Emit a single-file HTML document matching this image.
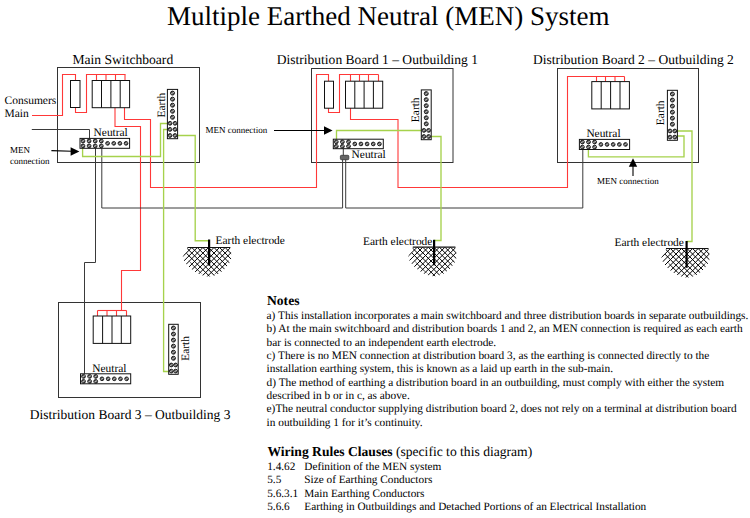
<!DOCTYPE html>
<html><head><meta charset="utf-8"><style>
html,body{margin:0;padding:0;background:#fff;}
svg{display:block;}
text{font-family:"Liberation Serif",serif;fill:#000;text-rendering:geometricPrecision;}
</style></head><body>
<svg width="750" height="518" viewBox="0 0 750 518">
<rect width="750" height="518" fill="#fff"/>
<text x="167" y="25.3" font-size="27" font-weight="normal" text-anchor="start" >Multiple Earthed Neutral (MEN) System</text>
<text x="72.4" y="64.4" font-size="13.6" font-weight="normal" text-anchor="start" >Main Switchboard</text>
<text x="276.7" y="63.9" font-size="13.55" font-weight="normal" text-anchor="start" >Distribution Board 1 – Outbuilding 1</text>
<text x="533" y="63.9" font-size="13.53" font-weight="normal" text-anchor="start" >Distribution Board 2 – Outbuilding 2</text>
<text x="29.8" y="418.8" font-size="13.5" font-weight="normal" text-anchor="start" >Distribution Board 3 – Outbuilding 3</text>
<rect x="57.5" y="67.5" width="142" height="95" stroke="#333" fill="none" stroke-width="1"/>
<rect x="311.5" y="68.5" width="141.5" height="94" stroke="#333" fill="none" stroke-width="1"/>
<rect x="557.5" y="68.5" width="141" height="94" stroke="#333" fill="none" stroke-width="1"/>
<rect x="58.5" y="302.5" width="142" height="95" stroke="#333" fill="none" stroke-width="1"/>
<path d="M32,115.5H62.5V74.5H75.5V80.5" stroke="#ff3838" stroke-width="1.1" fill="none"/>
<path d="M75.5,107.5V112.5H86.5V74.5H125.5" stroke="#ff3838" stroke-width="1.1" fill="none"/>
<path d="M96.5,74.5V80.5" stroke="#ff3838" stroke-width="1.1" fill="none"/>
<path d="M106,74.5V80.5" stroke="#ff3838" stroke-width="1.1" fill="none"/>
<path d="M115.5,74.5V80.5" stroke="#ff3838" stroke-width="1.1" fill="none"/>
<path d="M125,74.5V80.5" stroke="#ff3838" stroke-width="1.1" fill="none"/>
<path d="M115,107.5V126.5H140.5V270.5H121.5V310.5" stroke="#ff3838" stroke-width="1.1" fill="none"/>
<path d="M124.5,107.5V119.5H150.5V187.5H316.5V74.5H328.5V81" stroke="#ff3838" stroke-width="1.1" fill="none"/>
<path d="M328.5,108V112.5H339.5V74.5H378.5" stroke="#ff3838" stroke-width="1.1" fill="none"/>
<path d="M350.5,74.5V81" stroke="#ff3838" stroke-width="1.1" fill="none"/>
<path d="M359.5,74.5V81" stroke="#ff3838" stroke-width="1.1" fill="none"/>
<path d="M368.5,74.5V81" stroke="#ff3838" stroke-width="1.1" fill="none"/>
<path d="M378.5,74.5V81" stroke="#ff3838" stroke-width="1.1" fill="none"/>
<path d="M350.5,108V119.5H398V187.5H567.5V76.5H624.5" stroke="#ff3838" stroke-width="1.1" fill="none"/>
<path d="M596.5,76.5V81.5" stroke="#ff3838" stroke-width="1.1" fill="none"/>
<path d="M605.5,76.5V81.5" stroke="#ff3838" stroke-width="1.1" fill="none"/>
<path d="M615,76.5V81.5" stroke="#ff3838" stroke-width="1.1" fill="none"/>
<path d="M624.5,76.5V81.5" stroke="#ff3838" stroke-width="1.1" fill="none"/>
<path d="M97.5,310.5H126.5" stroke="#ff3838" stroke-width="1.1" fill="none"/>
<path d="M97.5,310.5V316" stroke="#ff3838" stroke-width="1.1" fill="none"/>
<path d="M107,310.5V316" stroke="#ff3838" stroke-width="1.1" fill="none"/>
<path d="M116.5,310.5V316" stroke="#ff3838" stroke-width="1.1" fill="none"/>
<path d="M126.5,310.5V316" stroke="#ff3838" stroke-width="1.1" fill="none"/>
<path d="M31.8,129.5H89.5V138.5" stroke="#3a3a3a" stroke-width="1" fill="none"/>
<path d="M95.5,148V262.5H84.5V373.8" stroke="#3a3a3a" stroke-width="1" fill="none"/>
<path d="M101.8,148V208H342.6V159.5" stroke="#3a3a3a" stroke-width="1" fill="none"/>
<path d="M343.3,148.5V155.5" stroke="#3a3a3a" stroke-width="1" fill="none"/>
<path d="M345.7,159.5V208H582.8V149.5" stroke="#3a3a3a" stroke-width="1" fill="none"/>
<path d="M82.6,148V156.5H160.5V123.5H168" stroke="#a6d24c" stroke-width="1.35" fill="none"/>
<path d="M168,129.5H163.6V371.5H169" stroke="#a6d24c" stroke-width="1.35" fill="none"/>
<path d="M177,135.5H195.2V240.7H209" stroke="#a6d24c" stroke-width="1.35" fill="none"/>
<path d="M336.5,139V130.5H421.5" stroke="#a6d24c" stroke-width="1.35" fill="none"/>
<path d="M431,136.5H441V240.5H434" stroke="#a6d24c" stroke-width="1.35" fill="none"/>
<path d="M588.4,149.5V156.9H684V136H677" stroke="#a6d24c" stroke-width="1.35" fill="none"/>
<path d="M677,131H692V241.5H686.6" stroke="#a6d24c" stroke-width="1.35" fill="none"/>
<rect x="70.5" y="80.5" width="9.5" height="27" stroke="#111" fill="#fff" stroke-width="1"/>
<rect x="92.2" y="80.5" width="37.4" height="27.2" stroke="#111" fill="#fff" stroke-width="1"/>
<path d="M101.5,80.5V107.7" stroke="#111" stroke-width="1"/>
<path d="M110.9,80.5V107.7" stroke="#111" stroke-width="1"/>
<path d="M120.2,80.5V107.7" stroke="#111" stroke-width="1"/>
<rect x="324.5" y="81.2" width="9" height="27" stroke="#111" fill="#fff" stroke-width="1"/>
<rect x="345.5" y="81.2" width="37.2" height="27" stroke="#111" fill="#fff" stroke-width="1"/>
<path d="M354.8,81.2V108.2" stroke="#111" stroke-width="1"/>
<path d="M364.1,81.2V108.2" stroke="#111" stroke-width="1"/>
<path d="M373.4,81.2V108.2" stroke="#111" stroke-width="1"/>
<rect x="591.8" y="81.6" width="37.6" height="27.3" stroke="#111" fill="#fff" stroke-width="1"/>
<path d="M601.2,81.6V108.89999999999999" stroke="#111" stroke-width="1"/>
<path d="M610.6,81.6V108.89999999999999" stroke="#111" stroke-width="1"/>
<path d="M620.0,81.6V108.89999999999999" stroke="#111" stroke-width="1"/>
<rect x="93.2" y="316" width="37.5" height="27.4" stroke="#111" fill="#fff" stroke-width="1"/>
<path d="M102.6,316V343.4" stroke="#111" stroke-width="1"/>
<path d="M112.0,316V343.4" stroke="#111" stroke-width="1"/>
<path d="M121.3,316V343.4" stroke="#111" stroke-width="1"/>
<rect x="80" y="138.4" width="49.6" height="9.9" stroke="#111" fill="#fff" stroke-width="1"/>
<circle cx="83.00" cy="141.00" r="1.90" fill="#555" stroke="#111" stroke-width="0.9"/>
<path d="M81.58,141.85L84.42,140.15" stroke="#e0e0e0" stroke-width="0.7"/>
<circle cx="83.00" cy="145.90" r="1.90" fill="#555" stroke="#111" stroke-width="0.9"/>
<path d="M81.58,146.75L84.42,145.05" stroke="#e0e0e0" stroke-width="0.7"/>
<circle cx="89.10" cy="141.00" r="1.90" fill="#555" stroke="#111" stroke-width="0.9"/>
<path d="M87.67,141.85L90.52,140.15" stroke="#e0e0e0" stroke-width="0.7"/>
<circle cx="89.10" cy="145.90" r="1.90" fill="#555" stroke="#111" stroke-width="0.9"/>
<path d="M87.67,146.75L90.52,145.05" stroke="#e0e0e0" stroke-width="0.7"/>
<circle cx="95.20" cy="141.00" r="1.90" fill="#555" stroke="#111" stroke-width="0.9"/>
<path d="M93.78,141.85L96.62,140.15" stroke="#e0e0e0" stroke-width="0.7"/>
<circle cx="95.20" cy="145.90" r="1.90" fill="#555" stroke="#111" stroke-width="0.9"/>
<path d="M93.78,146.75L96.62,145.05" stroke="#e0e0e0" stroke-width="0.7"/>
<circle cx="101.30" cy="141.00" r="1.90" fill="#555" stroke="#111" stroke-width="0.9"/>
<path d="M99.88,141.85L102.72,140.15" stroke="#e0e0e0" stroke-width="0.7"/>
<circle cx="101.30" cy="145.90" r="1.90" fill="#555" stroke="#111" stroke-width="0.9"/>
<path d="M99.88,146.75L102.72,145.05" stroke="#e0e0e0" stroke-width="0.7"/>
<circle cx="107.60" cy="143.35" r="1.85" fill="#555" stroke="#111" stroke-width="0.9"/>
<path d="M106.21,144.18L108.99,142.52" stroke="#e0e0e0" stroke-width="0.7"/>
<circle cx="113.75" cy="143.35" r="1.85" fill="#555" stroke="#111" stroke-width="0.9"/>
<path d="M112.36,144.18L115.14,142.52" stroke="#e0e0e0" stroke-width="0.7"/>
<circle cx="119.90" cy="143.35" r="1.85" fill="#555" stroke="#111" stroke-width="0.9"/>
<path d="M118.51,144.18L121.29,142.52" stroke="#e0e0e0" stroke-width="0.7"/>
<circle cx="126.05" cy="143.35" r="1.85" fill="#555" stroke="#111" stroke-width="0.9"/>
<path d="M124.66,144.18L127.44,142.52" stroke="#e0e0e0" stroke-width="0.7"/>
<rect x="333.3" y="139.2" width="50" height="9.5" stroke="#111" fill="#fff" stroke-width="1"/>
<circle cx="336.30" cy="141.80" r="1.90" fill="#555" stroke="#111" stroke-width="0.9"/>
<path d="M334.88,142.65L337.73,140.94" stroke="#e0e0e0" stroke-width="0.7"/>
<circle cx="336.30" cy="146.30" r="1.90" fill="#555" stroke="#111" stroke-width="0.9"/>
<path d="M334.88,147.15L337.73,145.44" stroke="#e0e0e0" stroke-width="0.7"/>
<circle cx="342.40" cy="141.80" r="1.90" fill="#555" stroke="#111" stroke-width="0.9"/>
<path d="M340.98,142.65L343.83,140.94" stroke="#e0e0e0" stroke-width="0.7"/>
<circle cx="342.40" cy="146.30" r="1.90" fill="#555" stroke="#111" stroke-width="0.9"/>
<path d="M340.98,147.15L343.83,145.44" stroke="#e0e0e0" stroke-width="0.7"/>
<circle cx="348.50" cy="141.80" r="1.90" fill="#555" stroke="#111" stroke-width="0.9"/>
<path d="M347.07,142.65L349.93,140.94" stroke="#e0e0e0" stroke-width="0.7"/>
<circle cx="348.50" cy="146.30" r="1.90" fill="#555" stroke="#111" stroke-width="0.9"/>
<path d="M347.07,147.15L349.93,145.44" stroke="#e0e0e0" stroke-width="0.7"/>
<circle cx="354.80" cy="143.95" r="1.85" fill="#555" stroke="#111" stroke-width="0.9"/>
<path d="M353.41,144.78L356.19,143.12" stroke="#e0e0e0" stroke-width="0.7"/>
<circle cx="360.95" cy="143.95" r="1.85" fill="#555" stroke="#111" stroke-width="0.9"/>
<path d="M359.56,144.78L362.34,143.12" stroke="#e0e0e0" stroke-width="0.7"/>
<circle cx="367.10" cy="143.95" r="1.85" fill="#555" stroke="#111" stroke-width="0.9"/>
<path d="M365.71,144.78L368.49,143.12" stroke="#e0e0e0" stroke-width="0.7"/>
<circle cx="373.25" cy="143.95" r="1.85" fill="#555" stroke="#111" stroke-width="0.9"/>
<path d="M371.86,144.78L374.64,143.12" stroke="#e0e0e0" stroke-width="0.7"/>
<circle cx="379.40" cy="143.95" r="1.85" fill="#555" stroke="#111" stroke-width="0.9"/>
<path d="M378.01,144.78L380.79,143.12" stroke="#e0e0e0" stroke-width="0.7"/>
<rect x="579.4" y="139.4" width="50.2" height="10.1" stroke="#111" fill="#fff" stroke-width="1"/>
<circle cx="582.40" cy="142.00" r="1.90" fill="#555" stroke="#111" stroke-width="0.9"/>
<path d="M580.98,142.85L583.82,141.15" stroke="#e0e0e0" stroke-width="0.7"/>
<circle cx="582.40" cy="147.10" r="1.90" fill="#555" stroke="#111" stroke-width="0.9"/>
<path d="M580.98,147.95L583.82,146.25" stroke="#e0e0e0" stroke-width="0.7"/>
<circle cx="588.50" cy="142.00" r="1.90" fill="#555" stroke="#111" stroke-width="0.9"/>
<path d="M587.08,142.85L589.92,141.15" stroke="#e0e0e0" stroke-width="0.7"/>
<circle cx="588.50" cy="147.10" r="1.90" fill="#555" stroke="#111" stroke-width="0.9"/>
<path d="M587.08,147.95L589.92,146.25" stroke="#e0e0e0" stroke-width="0.7"/>
<circle cx="594.60" cy="142.00" r="1.90" fill="#555" stroke="#111" stroke-width="0.9"/>
<path d="M593.18,142.85L596.02,141.15" stroke="#e0e0e0" stroke-width="0.7"/>
<circle cx="594.60" cy="147.10" r="1.90" fill="#555" stroke="#111" stroke-width="0.9"/>
<path d="M593.18,147.95L596.02,146.25" stroke="#e0e0e0" stroke-width="0.7"/>
<circle cx="600.90" cy="144.45" r="1.85" fill="#555" stroke="#111" stroke-width="0.9"/>
<path d="M599.51,145.28L602.29,143.62" stroke="#e0e0e0" stroke-width="0.7"/>
<circle cx="607.05" cy="144.45" r="1.85" fill="#555" stroke="#111" stroke-width="0.9"/>
<path d="M605.66,145.28L608.44,143.62" stroke="#e0e0e0" stroke-width="0.7"/>
<circle cx="613.20" cy="144.45" r="1.85" fill="#555" stroke="#111" stroke-width="0.9"/>
<path d="M611.81,145.28L614.59,143.62" stroke="#e0e0e0" stroke-width="0.7"/>
<circle cx="619.35" cy="144.45" r="1.85" fill="#555" stroke="#111" stroke-width="0.9"/>
<path d="M617.96,145.28L620.74,143.62" stroke="#e0e0e0" stroke-width="0.7"/>
<circle cx="625.50" cy="144.45" r="1.85" fill="#555" stroke="#111" stroke-width="0.9"/>
<path d="M624.11,145.28L626.89,143.62" stroke="#e0e0e0" stroke-width="0.7"/>
<rect x="80.5" y="373.8" width="50.2" height="10" stroke="#111" fill="#fff" stroke-width="1"/>
<circle cx="83.50" cy="376.40" r="1.90" fill="#555" stroke="#111" stroke-width="0.9"/>
<path d="M82.08,377.26L84.92,375.55" stroke="#e0e0e0" stroke-width="0.7"/>
<circle cx="83.50" cy="381.40" r="1.90" fill="#555" stroke="#111" stroke-width="0.9"/>
<path d="M82.08,382.26L84.92,380.55" stroke="#e0e0e0" stroke-width="0.7"/>
<circle cx="89.60" cy="376.40" r="1.90" fill="#555" stroke="#111" stroke-width="0.9"/>
<path d="M88.17,377.26L91.02,375.55" stroke="#e0e0e0" stroke-width="0.7"/>
<circle cx="89.60" cy="381.40" r="1.90" fill="#555" stroke="#111" stroke-width="0.9"/>
<path d="M88.17,382.26L91.02,380.55" stroke="#e0e0e0" stroke-width="0.7"/>
<circle cx="95.70" cy="376.40" r="1.90" fill="#555" stroke="#111" stroke-width="0.9"/>
<path d="M94.28,377.26L97.12,375.55" stroke="#e0e0e0" stroke-width="0.7"/>
<circle cx="95.70" cy="381.40" r="1.90" fill="#555" stroke="#111" stroke-width="0.9"/>
<path d="M94.28,382.26L97.12,380.55" stroke="#e0e0e0" stroke-width="0.7"/>
<circle cx="102.00" cy="378.80" r="1.85" fill="#555" stroke="#111" stroke-width="0.9"/>
<path d="M100.61,379.63L103.39,377.97" stroke="#e0e0e0" stroke-width="0.7"/>
<circle cx="108.15" cy="378.80" r="1.85" fill="#555" stroke="#111" stroke-width="0.9"/>
<path d="M106.76,379.63L109.54,377.97" stroke="#e0e0e0" stroke-width="0.7"/>
<circle cx="114.30" cy="378.80" r="1.85" fill="#555" stroke="#111" stroke-width="0.9"/>
<path d="M112.91,379.63L115.69,377.97" stroke="#e0e0e0" stroke-width="0.7"/>
<circle cx="120.45" cy="378.80" r="1.85" fill="#555" stroke="#111" stroke-width="0.9"/>
<path d="M119.06,379.63L121.84,377.97" stroke="#e0e0e0" stroke-width="0.7"/>
<circle cx="126.60" cy="378.80" r="1.85" fill="#555" stroke="#111" stroke-width="0.9"/>
<path d="M125.21,379.63L127.99,377.97" stroke="#e0e0e0" stroke-width="0.7"/>
<rect x="340.4" y="155.3" width="8.4" height="4.4" rx="1" fill="#666" stroke="#333" stroke-width="0.8"/>
<rect x="167.4" y="89.4" width="10.2" height="49.3" stroke="#111" fill="#fff" stroke-width="1"/>
<circle cx="172.50" cy="93.10" r="2.00" fill="#555" stroke="#111" stroke-width="0.9"/>
<path d="M171.00,94.00L174.00,92.20" stroke="#e0e0e0" stroke-width="0.7"/>
<circle cx="172.50" cy="99.15" r="2.00" fill="#555" stroke="#111" stroke-width="0.9"/>
<path d="M171.00,100.05L174.00,98.25" stroke="#e0e0e0" stroke-width="0.7"/>
<circle cx="172.50" cy="105.20" r="2.00" fill="#555" stroke="#111" stroke-width="0.9"/>
<path d="M171.00,106.10L174.00,104.30" stroke="#e0e0e0" stroke-width="0.7"/>
<circle cx="172.50" cy="111.25" r="2.00" fill="#555" stroke="#111" stroke-width="0.9"/>
<path d="M171.00,112.15L174.00,110.35" stroke="#e0e0e0" stroke-width="0.7"/>
<circle cx="172.50" cy="117.30" r="2.00" fill="#555" stroke="#111" stroke-width="0.9"/>
<path d="M171.00,118.20L174.00,116.40" stroke="#e0e0e0" stroke-width="0.7"/>
<circle cx="170.00" cy="123.30" r="1.90" fill="#555" stroke="#111" stroke-width="0.9"/>
<path d="M168.57,124.16L171.43,122.44" stroke="#e0e0e0" stroke-width="0.7"/>
<circle cx="175.00" cy="123.30" r="1.90" fill="#555" stroke="#111" stroke-width="0.9"/>
<path d="M173.57,124.16L176.43,122.44" stroke="#e0e0e0" stroke-width="0.7"/>
<circle cx="170.00" cy="129.40" r="1.90" fill="#555" stroke="#111" stroke-width="0.9"/>
<path d="M168.57,130.25L171.43,128.55" stroke="#e0e0e0" stroke-width="0.7"/>
<circle cx="175.00" cy="129.40" r="1.90" fill="#555" stroke="#111" stroke-width="0.9"/>
<path d="M173.57,130.25L176.43,128.55" stroke="#e0e0e0" stroke-width="0.7"/>
<circle cx="170.00" cy="135.50" r="1.90" fill="#555" stroke="#111" stroke-width="0.9"/>
<path d="M168.57,136.35L171.43,134.65" stroke="#e0e0e0" stroke-width="0.7"/>
<circle cx="175.00" cy="135.50" r="1.90" fill="#555" stroke="#111" stroke-width="0.9"/>
<path d="M173.57,136.35L176.43,134.65" stroke="#e0e0e0" stroke-width="0.7"/>
<rect x="421.3" y="89.9" width="9.9" height="49.8" stroke="#111" fill="#fff" stroke-width="1"/>
<circle cx="426.25" cy="93.60" r="2.00" fill="#555" stroke="#111" stroke-width="0.9"/>
<path d="M424.75,94.50L427.75,92.70" stroke="#e0e0e0" stroke-width="0.7"/>
<circle cx="426.25" cy="99.65" r="2.00" fill="#555" stroke="#111" stroke-width="0.9"/>
<path d="M424.75,100.55L427.75,98.75" stroke="#e0e0e0" stroke-width="0.7"/>
<circle cx="426.25" cy="105.70" r="2.00" fill="#555" stroke="#111" stroke-width="0.9"/>
<path d="M424.75,106.60L427.75,104.80" stroke="#e0e0e0" stroke-width="0.7"/>
<circle cx="426.25" cy="111.75" r="2.00" fill="#555" stroke="#111" stroke-width="0.9"/>
<path d="M424.75,112.65L427.75,110.85" stroke="#e0e0e0" stroke-width="0.7"/>
<circle cx="426.25" cy="117.80" r="2.00" fill="#555" stroke="#111" stroke-width="0.9"/>
<path d="M424.75,118.70L427.75,116.90" stroke="#e0e0e0" stroke-width="0.7"/>
<circle cx="426.25" cy="123.85" r="2.00" fill="#555" stroke="#111" stroke-width="0.9"/>
<path d="M424.75,124.75L427.75,122.95" stroke="#e0e0e0" stroke-width="0.7"/>
<circle cx="423.90" cy="130.40" r="1.90" fill="#555" stroke="#111" stroke-width="0.9"/>
<path d="M422.48,131.25L425.33,129.55" stroke="#e0e0e0" stroke-width="0.7"/>
<circle cx="428.60" cy="130.40" r="1.90" fill="#555" stroke="#111" stroke-width="0.9"/>
<path d="M427.17,131.25L430.02,129.55" stroke="#e0e0e0" stroke-width="0.7"/>
<circle cx="423.90" cy="136.50" r="1.90" fill="#555" stroke="#111" stroke-width="0.9"/>
<path d="M422.48,137.35L425.33,135.65" stroke="#e0e0e0" stroke-width="0.7"/>
<circle cx="428.60" cy="136.50" r="1.90" fill="#555" stroke="#111" stroke-width="0.9"/>
<path d="M427.17,137.35L430.02,135.65" stroke="#e0e0e0" stroke-width="0.7"/>
<rect x="667.4" y="90.3" width="10" height="50" stroke="#111" fill="#fff" stroke-width="1"/>
<circle cx="672.40" cy="94.00" r="2.00" fill="#555" stroke="#111" stroke-width="0.9"/>
<path d="M670.90,94.90L673.90,93.10" stroke="#e0e0e0" stroke-width="0.7"/>
<circle cx="672.40" cy="100.05" r="2.00" fill="#555" stroke="#111" stroke-width="0.9"/>
<path d="M670.90,100.95L673.90,99.15" stroke="#e0e0e0" stroke-width="0.7"/>
<circle cx="672.40" cy="106.10" r="2.00" fill="#555" stroke="#111" stroke-width="0.9"/>
<path d="M670.90,107.00L673.90,105.20" stroke="#e0e0e0" stroke-width="0.7"/>
<circle cx="672.40" cy="112.15" r="2.00" fill="#555" stroke="#111" stroke-width="0.9"/>
<path d="M670.90,113.05L673.90,111.25" stroke="#e0e0e0" stroke-width="0.7"/>
<circle cx="672.40" cy="118.20" r="2.00" fill="#555" stroke="#111" stroke-width="0.9"/>
<path d="M670.90,119.10L673.90,117.30" stroke="#e0e0e0" stroke-width="0.7"/>
<circle cx="672.40" cy="124.25" r="2.00" fill="#555" stroke="#111" stroke-width="0.9"/>
<path d="M670.90,125.15L673.90,123.35" stroke="#e0e0e0" stroke-width="0.7"/>
<circle cx="670.00" cy="131.00" r="1.90" fill="#555" stroke="#111" stroke-width="0.9"/>
<path d="M668.58,131.86L671.42,130.15" stroke="#e0e0e0" stroke-width="0.7"/>
<circle cx="674.80" cy="131.00" r="1.90" fill="#555" stroke="#111" stroke-width="0.9"/>
<path d="M673.38,131.86L676.22,130.15" stroke="#e0e0e0" stroke-width="0.7"/>
<circle cx="670.00" cy="137.10" r="1.90" fill="#555" stroke="#111" stroke-width="0.9"/>
<path d="M668.58,137.96L671.42,136.25" stroke="#e0e0e0" stroke-width="0.7"/>
<circle cx="674.80" cy="137.10" r="1.90" fill="#555" stroke="#111" stroke-width="0.9"/>
<path d="M673.38,137.96L676.22,136.25" stroke="#e0e0e0" stroke-width="0.7"/>
<rect x="168.7" y="324.3" width="9.5" height="50" stroke="#111" fill="#fff" stroke-width="1"/>
<circle cx="173.45" cy="328.00" r="2.00" fill="#555" stroke="#111" stroke-width="0.9"/>
<path d="M171.95,328.90L174.95,327.10" stroke="#e0e0e0" stroke-width="0.7"/>
<circle cx="173.45" cy="334.05" r="2.00" fill="#555" stroke="#111" stroke-width="0.9"/>
<path d="M171.95,334.95L174.95,333.15" stroke="#e0e0e0" stroke-width="0.7"/>
<circle cx="173.45" cy="340.10" r="2.00" fill="#555" stroke="#111" stroke-width="0.9"/>
<path d="M171.95,341.00L174.95,339.20" stroke="#e0e0e0" stroke-width="0.7"/>
<circle cx="173.45" cy="346.15" r="2.00" fill="#555" stroke="#111" stroke-width="0.9"/>
<path d="M171.95,347.05L174.95,345.25" stroke="#e0e0e0" stroke-width="0.7"/>
<circle cx="173.45" cy="352.20" r="2.00" fill="#555" stroke="#111" stroke-width="0.9"/>
<path d="M171.95,353.10L174.95,351.30" stroke="#e0e0e0" stroke-width="0.7"/>
<circle cx="173.45" cy="358.25" r="2.00" fill="#555" stroke="#111" stroke-width="0.9"/>
<path d="M171.95,359.15L174.95,357.35" stroke="#e0e0e0" stroke-width="0.7"/>
<circle cx="171.30" cy="365.00" r="1.90" fill="#555" stroke="#111" stroke-width="0.9"/>
<path d="M169.87,365.86L172.72,364.14" stroke="#e0e0e0" stroke-width="0.7"/>
<circle cx="175.60" cy="365.00" r="1.90" fill="#555" stroke="#111" stroke-width="0.9"/>
<path d="M174.17,365.86L177.03,364.14" stroke="#e0e0e0" stroke-width="0.7"/>
<circle cx="171.30" cy="371.10" r="1.90" fill="#555" stroke="#111" stroke-width="0.9"/>
<path d="M169.87,371.96L172.72,370.25" stroke="#e0e0e0" stroke-width="0.7"/>
<circle cx="175.60" cy="371.10" r="1.90" fill="#555" stroke="#111" stroke-width="0.9"/>
<path d="M174.17,371.96L177.03,370.25" stroke="#e0e0e0" stroke-width="0.7"/>
<text x="93.6" y="136.4" font-size="11.4" font-weight="normal" text-anchor="start" >Neutral</text>
<text x="351.6" y="158.4" font-size="11.4" font-weight="normal" text-anchor="start" >Neutral</text>
<text x="586.4" y="136.8" font-size="11.4" font-weight="normal" text-anchor="start" >Neutral</text>
<text x="92.3" y="371.6" font-size="11.4" font-weight="normal" text-anchor="start" >Neutral</text>
<text x="0" y="0" font-size="11.4" text-anchor="middle" transform="translate(161.1,105.1) rotate(-90)" dy="0.33em">Earth</text>
<text x="0" y="0" font-size="11.4" text-anchor="middle" transform="translate(414.9,109.8) rotate(-90)" dy="0.33em">Earth</text>
<text x="0" y="0" font-size="11.4" text-anchor="middle" transform="translate(660.6,112.8) rotate(-90)" dy="0.33em">Earth</text>
<text x="0" y="0" font-size="11.4" text-anchor="middle" transform="translate(185.2,348.4) rotate(-90)" dy="0.33em">Earth</text>
<text x="4.5" y="103.6" font-size="11.5" font-weight="normal" text-anchor="start" >Consumers</text>
<text x="4.5" y="117.4" font-size="11.5" font-weight="normal" text-anchor="start" >Main</text>
<text x="10" y="152.7" font-size="9" font-weight="normal" text-anchor="start" >MEN</text>
<text x="10" y="163.5" font-size="9" font-weight="normal" text-anchor="start" >connection</text>
<text x="205.5" y="132.6" font-size="9" font-weight="normal" text-anchor="start" >MEN connection</text>
<text x="597" y="184.2" font-size="9" font-weight="normal" text-anchor="start" >MEN connection</text>
<path d="M51.4,150.6L72,151.3" stroke="#000" stroke-width="1.1" fill="none"/>
<path d="M70.6,147.2L79.4,151.5L70.6,155.8Z" fill="#000"/>
<path d="M274,130.5H325" stroke="#000" stroke-width="1.1" fill="none"/>
<path d="M324,126.2L332.6,130.5L324,134.8Z" fill="#000"/>
<path d="M633,166V176" stroke="#000" stroke-width="1.1" fill="none"/>
<path d="M628.8,166.8L633,158.2L637.2,166.8Z" fill="#000"/>
<clipPath id="c1a"><path d="M187.4,247.5 H230.3 L231.10000000000002,252.5 C230.3,262.5 216.85000000000002,276.0 207.85000000000002,276.5 C198.85000000000002,276.5 182.9,264.5 182.9,256.5 Z"/></clipPath>
<clipPath id="c1b"><path d="M187.4,247.5 H230.3 L231.5,256.5 C231.5,264.5 218.85000000000002,276.5 209.85000000000002,276.5 C200.85000000000002,276.0 186.4,262.5 186.4,252.5 Z"/></clipPath>
<path clip-path="url(#c1a)" d="M147.40,247.5l-40,40M152.95,247.5l-40,40M158.50,247.5l-40,40M164.05,247.5l-40,40M169.60,247.5l-40,40M175.15,247.5l-40,40M180.70,247.5l-40,40M186.25,247.5l-40,40M191.80,247.5l-40,40M197.35,247.5l-40,40M202.90,247.5l-40,40M208.45,247.5l-40,40M214.00,247.5l-40,40M219.55,247.5l-40,40M225.10,247.5l-40,40M230.65,247.5l-40,40M236.20,247.5l-40,40M241.75,247.5l-40,40M247.30,247.5l-40,40M252.85,247.5l-40,40M258.40,247.5l-40,40M263.95,247.5l-40,40M269.50,247.5l-40,40M275.05,247.5l-40,40" stroke="#000" stroke-width="1.0" fill="none"/>
<path clip-path="url(#c1b)" d="M147.40,247.5l40,40M152.95,247.5l40,40M158.50,247.5l40,40M164.05,247.5l40,40M169.60,247.5l40,40M175.15,247.5l40,40M180.70,247.5l40,40M186.25,247.5l40,40M191.80,247.5l40,40M197.35,247.5l40,40M202.90,247.5l40,40M208.45,247.5l40,40M214.00,247.5l40,40M219.55,247.5l40,40M225.10,247.5l40,40M230.65,247.5l40,40M236.20,247.5l40,40M241.75,247.5l40,40M247.30,247.5l40,40M252.85,247.5l40,40M258.40,247.5l40,40M263.95,247.5l40,40M269.50,247.5l40,40M275.05,247.5l40,40" stroke="#000" stroke-width="1.0" fill="none"/>
<path d="M187.4,247.5H230.3" stroke="#111" stroke-width="1.2" fill="none"/>
<path d="M209.1,239.5V265.5" stroke="#000" stroke-width="2.2" fill="none"/>
<clipPath id="c2a"><path d="M412.8,247.2 H455.4 L456.2,252.2 C455.4,262.2 442.1,275.7 433.1,276.2 C424.1,276.2 408.3,264.2 408.3,256.2 Z"/></clipPath>
<clipPath id="c2b"><path d="M412.8,247.2 H455.4 L456.59999999999997,256.2 C456.59999999999997,264.2 444.1,276.2 435.1,276.2 C426.1,275.7 411.8,262.2 411.8,252.2 Z"/></clipPath>
<path clip-path="url(#c2a)" d="M372.80,247.2l-40,40M378.35,247.2l-40,40M383.90,247.2l-40,40M389.45,247.2l-40,40M395.00,247.2l-40,40M400.55,247.2l-40,40M406.10,247.2l-40,40M411.65,247.2l-40,40M417.20,247.2l-40,40M422.75,247.2l-40,40M428.30,247.2l-40,40M433.85,247.2l-40,40M439.40,247.2l-40,40M444.95,247.2l-40,40M450.50,247.2l-40,40M456.05,247.2l-40,40M461.60,247.2l-40,40M467.15,247.2l-40,40M472.70,247.2l-40,40M478.25,247.2l-40,40M483.80,247.2l-40,40M489.35,247.2l-40,40M494.90,247.2l-40,40M500.45,247.2l-40,40" stroke="#000" stroke-width="1.0" fill="none"/>
<path clip-path="url(#c2b)" d="M372.80,247.2l40,40M378.35,247.2l40,40M383.90,247.2l40,40M389.45,247.2l40,40M395.00,247.2l40,40M400.55,247.2l40,40M406.10,247.2l40,40M411.65,247.2l40,40M417.20,247.2l40,40M422.75,247.2l40,40M428.30,247.2l40,40M433.85,247.2l40,40M439.40,247.2l40,40M444.95,247.2l40,40M450.50,247.2l40,40M456.05,247.2l40,40M461.60,247.2l40,40M467.15,247.2l40,40M472.70,247.2l40,40M478.25,247.2l40,40M483.80,247.2l40,40M489.35,247.2l40,40M494.90,247.2l40,40M500.45,247.2l40,40" stroke="#000" stroke-width="1.0" fill="none"/>
<path d="M412.8,247.2H455.4" stroke="#111" stroke-width="1.2" fill="none"/>
<path d="M434.1,239.8V265.3" stroke="#000" stroke-width="2.2" fill="none"/>
<clipPath id="c3a"><path d="M666,248.5 H708.5 L709.3,253.5 C708.5,263.5 695.25,277.0 686.25,277.5 C677.25,277.5 661.5,265.5 661.5,257.5 Z"/></clipPath>
<clipPath id="c3b"><path d="M666,248.5 H708.5 L709.7,257.5 C709.7,265.5 697.25,277.5 688.25,277.5 C679.25,277.0 665,263.5 665,253.5 Z"/></clipPath>
<path clip-path="url(#c3a)" d="M626.00,248.5l-40,40M631.55,248.5l-40,40M637.10,248.5l-40,40M642.65,248.5l-40,40M648.20,248.5l-40,40M653.75,248.5l-40,40M659.30,248.5l-40,40M664.85,248.5l-40,40M670.40,248.5l-40,40M675.95,248.5l-40,40M681.50,248.5l-40,40M687.05,248.5l-40,40M692.60,248.5l-40,40M698.15,248.5l-40,40M703.70,248.5l-40,40M709.25,248.5l-40,40M714.80,248.5l-40,40M720.35,248.5l-40,40M725.90,248.5l-40,40M731.45,248.5l-40,40M737.00,248.5l-40,40M742.55,248.5l-40,40M748.10,248.5l-40,40M753.65,248.5l-40,40" stroke="#000" stroke-width="1.0" fill="none"/>
<path clip-path="url(#c3b)" d="M626.00,248.5l40,40M631.55,248.5l40,40M637.10,248.5l40,40M642.65,248.5l40,40M648.20,248.5l40,40M653.75,248.5l40,40M659.30,248.5l40,40M664.85,248.5l40,40M670.40,248.5l40,40M675.95,248.5l40,40M681.50,248.5l40,40M687.05,248.5l40,40M692.60,248.5l40,40M698.15,248.5l40,40M703.70,248.5l40,40M709.25,248.5l40,40M714.80,248.5l40,40M720.35,248.5l40,40M725.90,248.5l40,40M731.45,248.5l40,40M737.00,248.5l40,40M742.55,248.5l40,40M748.10,248.5l40,40M753.65,248.5l40,40" stroke="#000" stroke-width="1.0" fill="none"/>
<path d="M666,248.5H708.5" stroke="#111" stroke-width="1.2" fill="none"/>
<path d="M686.6,241V267.8" stroke="#000" stroke-width="2.2" fill="none"/>
<text x="215.6" y="244.3" font-size="11.4" font-weight="normal" text-anchor="start" >Earth electrode</text>
<text x="363.1" y="244.5" font-size="11.4" font-weight="normal" text-anchor="start" >Earth electrode</text>
<text x="614.6" y="245.8" font-size="11.4" font-weight="normal" text-anchor="start" >Earth electrode</text>
<text x="267" y="304.7" font-size="13.6" font-weight="bold" text-anchor="start" >Notes</text>
<text x="266.6" y="318.9" font-size="11.34" font-weight="normal" text-anchor="start" >a) This installation incorporates a main switchboard and three distribution boards in separate outbuildings.</text>
<text x="266.6" y="332.25" font-size="11.34" font-weight="normal" text-anchor="start" >b) At the main switchboard and distribution boards 1 and 2, an MEN connection is required as each earth</text>
<text x="266.6" y="345.6" font-size="11.34" font-weight="normal" text-anchor="start" >bar is connected to an independent earth electrode.</text>
<text x="266.6" y="358.95" font-size="11.34" font-weight="normal" text-anchor="start" >c) There is no MEN connection at distribution board 3, as the earthing is connected directly to the</text>
<text x="266.6" y="372.3" font-size="11.34" font-weight="normal" text-anchor="start" >installation earthing system, this is known as a laid up earth in the sub-main.</text>
<text x="266.6" y="385.65" font-size="11.34" font-weight="normal" text-anchor="start" >d) The method of earthing a distribution board in an outbuilding, must comply with either the system</text>
<text x="266.6" y="399.0" font-size="11.34" font-weight="normal" text-anchor="start" >described in b or in c, as above.</text>
<text x="266.6" y="412.35" font-size="11.34" font-weight="normal" text-anchor="start" >e)The neutral conductor supplying distribution board 2, does not rely on a terminal at distribution board</text>
<text x="266.6" y="425.7" font-size="11.34" font-weight="normal" text-anchor="start" >in outbuilding 1 for it’s continuity.</text>
<text x="267.4" y="455.8" font-size="13.6"><tspan font-weight="bold">Wiring Rules Clauses</tspan> (specific to this diagram)</text>
<text x="267.2" y="469.8" font-size="11.28" font-weight="normal" text-anchor="start" >1.4.62</text>
<text x="304.3" y="469.8" font-size="11.28" font-weight="normal" text-anchor="start" >Definition of the MEN system</text>
<text x="267.2" y="483.3" font-size="11.28" font-weight="normal" text-anchor="start" >5.5</text>
<text x="304.3" y="483.3" font-size="11.28" font-weight="normal" text-anchor="start" >Size of Earthing Conductors</text>
<text x="267.2" y="496.8" font-size="11.28" font-weight="normal" text-anchor="start" >5.6.3.1</text>
<text x="304.3" y="496.8" font-size="11.28" font-weight="normal" text-anchor="start" >Main Earthing Conductors</text>
<text x="267.2" y="510.3" font-size="11.28" font-weight="normal" text-anchor="start" >5.6.6</text>
<text x="304.3" y="510.3" font-size="11.28" font-weight="normal" text-anchor="start" >Earthing in Outbuildings and Detached Portions of an Electrical Installation</text>
</svg>
</body></html>
